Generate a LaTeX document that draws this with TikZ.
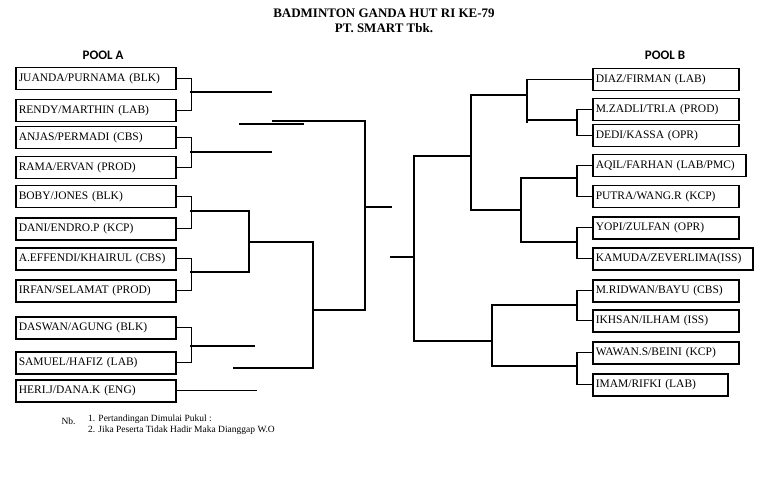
\documentclass[tikz,border=0pt]{standalone}
\usepackage{fontspec}
\setmainfont{Liberation Serif}
\newfontfamily\poolfont{Carlito}
\begin{document}
\begin{tikzpicture}[x=1pt,y=-1pt,
  box/.style={draw,line width=1.5pt,anchor=north west,minimum height=22pt,inner sep=0pt,font=\fontsize{11.5}{12}\selectfont},
  ln/.style={line width=1.3pt}]
\useasboundingbox (0,0) rectangle (768,489);
\node[font=\bfseries\fontsize{13}{15}\selectfont,align=center] (title) at (384,21) {BADMINTON GANDA HUT RI KE-79\\PT. SMART Tbk.};
\node[font=\poolfont\bfseries\fontsize{13}{14}\selectfont] (pa) at (103,55) {POOL A};
\node[font=\poolfont\bfseries\fontsize{13}{14}\selectfont] (pb) at (665,55) {POOL B};
% left boxes
\foreach \n/\y/\t in {a1/67/{JUANDA/PURNAMA (BLK)},a2/99/{RENDY/MARTHIN (LAB)},a3/126/{ANJAS/PERMADI (CBS)},a4/156/{RAMA/ERVAN (PROD)},a5/185/{BOBY/JONES (BLK)},a6/217/{DANI/ENDRO.P (KCP)},a7/247/{A.EFFENDI/KHAIRUL (CBS)},a8/279/{IRFAN/SELAMAT (PROD)},a9/316/{DASWAN/AGUNG (BLK)},a10/351/{SAMUEL/HAFIZ (LAB)},a11/379/{HERI.J/DANA.K (ENG)}}
  \node[box,minimum width=160pt,text width=154pt,align=left] (\n) at (15,\y) {\t};
% right boxes
\foreach \n/\y/\w/\t in {b1/68/146/{DIAZ/FIRMAN (LAB)},b2/98/146/{M.ZADLI/TRI.A (PROD)},b3/124/146/{DEDI/KASSA (OPR)},b4/154/153/{AQIL/FARHAN (LAB/PMC)},b5/185/146/{PUTRA/WANG.R (KCP)},b6/216/146/{YOPI/ZULFAN (OPR)},b7/247/160/{KAMUDA/ZEVERLIMA(ISS)},b8/279/146/{M.RIDWAN/BAYU (CBS)},b9/309/146/{IKHSAN/ILHAM (ISS)},b10/341/146/{WAWAN.S/BEINI (KCP)},b11/373/135/{IMAM/RIFKI (LAB)}}
  \node[box,minimum width=\w pt,text width=\w pt-6pt,align=left] (\n) at (592,\y) {\t};
% left bracket
\draw[ln] (a1.east) -- ++(15,0) |- (a2.east);
\draw[ln] (190,92) -- (272,92);
\draw[ln] (a3.east) -- ++(15,0) |- (a4.east);
\draw[ln] (190,152) -- (272,152);
\draw[ln] (239,124) -- (304,124);
\draw[ln] (272,121) -- (365,121) -- (365,310) -- (313,310);
\draw[ln] (365,207) -- (392,207);
\draw[ln] (a5.east) -- ++(15,0) |- (a6.east);
\draw[ln] (190,211) -- (249,211) -- (249,272) -- (190,272);
\draw[ln] (a7.east) -- ++(15,0) |- (a8.east);
\draw[ln] (249,242) -- (313,242) -- (313,368) -- (233,368);
\draw[ln] (a9.east) -- ++(15,0) |- (a10.east);
\draw[ln] (190,346) -- (255,346);
\draw[ln] (a11.east) -- ++(80,0);
% right bracket
\draw[ln] (b1.west) -- ++(-65,0) -- (527,123);
\draw[ln] (b2.west) -- ++(-15,0) |- (b3.west);
\draw[ln] (527,120) -- (577,120);
\draw[ln] (527,95) -- (471,95) -- (471,210) -- (521,210);
\draw[ln] (471,156) -- (414,156) -- (414,341) -- (492,341);
\draw[ln] (414,257) -- (390,257);
\draw[ln] (b4.west) -- ++(-15,0) |- (b5.west);
\draw[ln] (577,178) -- (521,178) -- (521,242) -- (577,242);
\draw[ln] (b6.west) -- ++(-15,0) |- (b7.west);
\draw[ln] (b8.west) -- ++(-15,0) |- (b9.west);
\draw[ln] (577,305) -- (492,305) -- (492,366) -- (577,366);
\draw[ln] (b10.west) -- ++(-15,0) |- (b11.west);
% notes
\node[anchor=west,font=\fontsize{9.5}{11}\selectfont] (nb) at (58,421) {Nb.};
\node[anchor=north west,font=\fontsize{9.5}{11}\selectfont,align=left,inner sep=0pt] (notes) at (88,415) {1. Pertandingan Dimulai Pukul :\\2. Jika Peserta Tidak Hadir Maka Dianggap W.O};
\end{tikzpicture}
\end{document}
